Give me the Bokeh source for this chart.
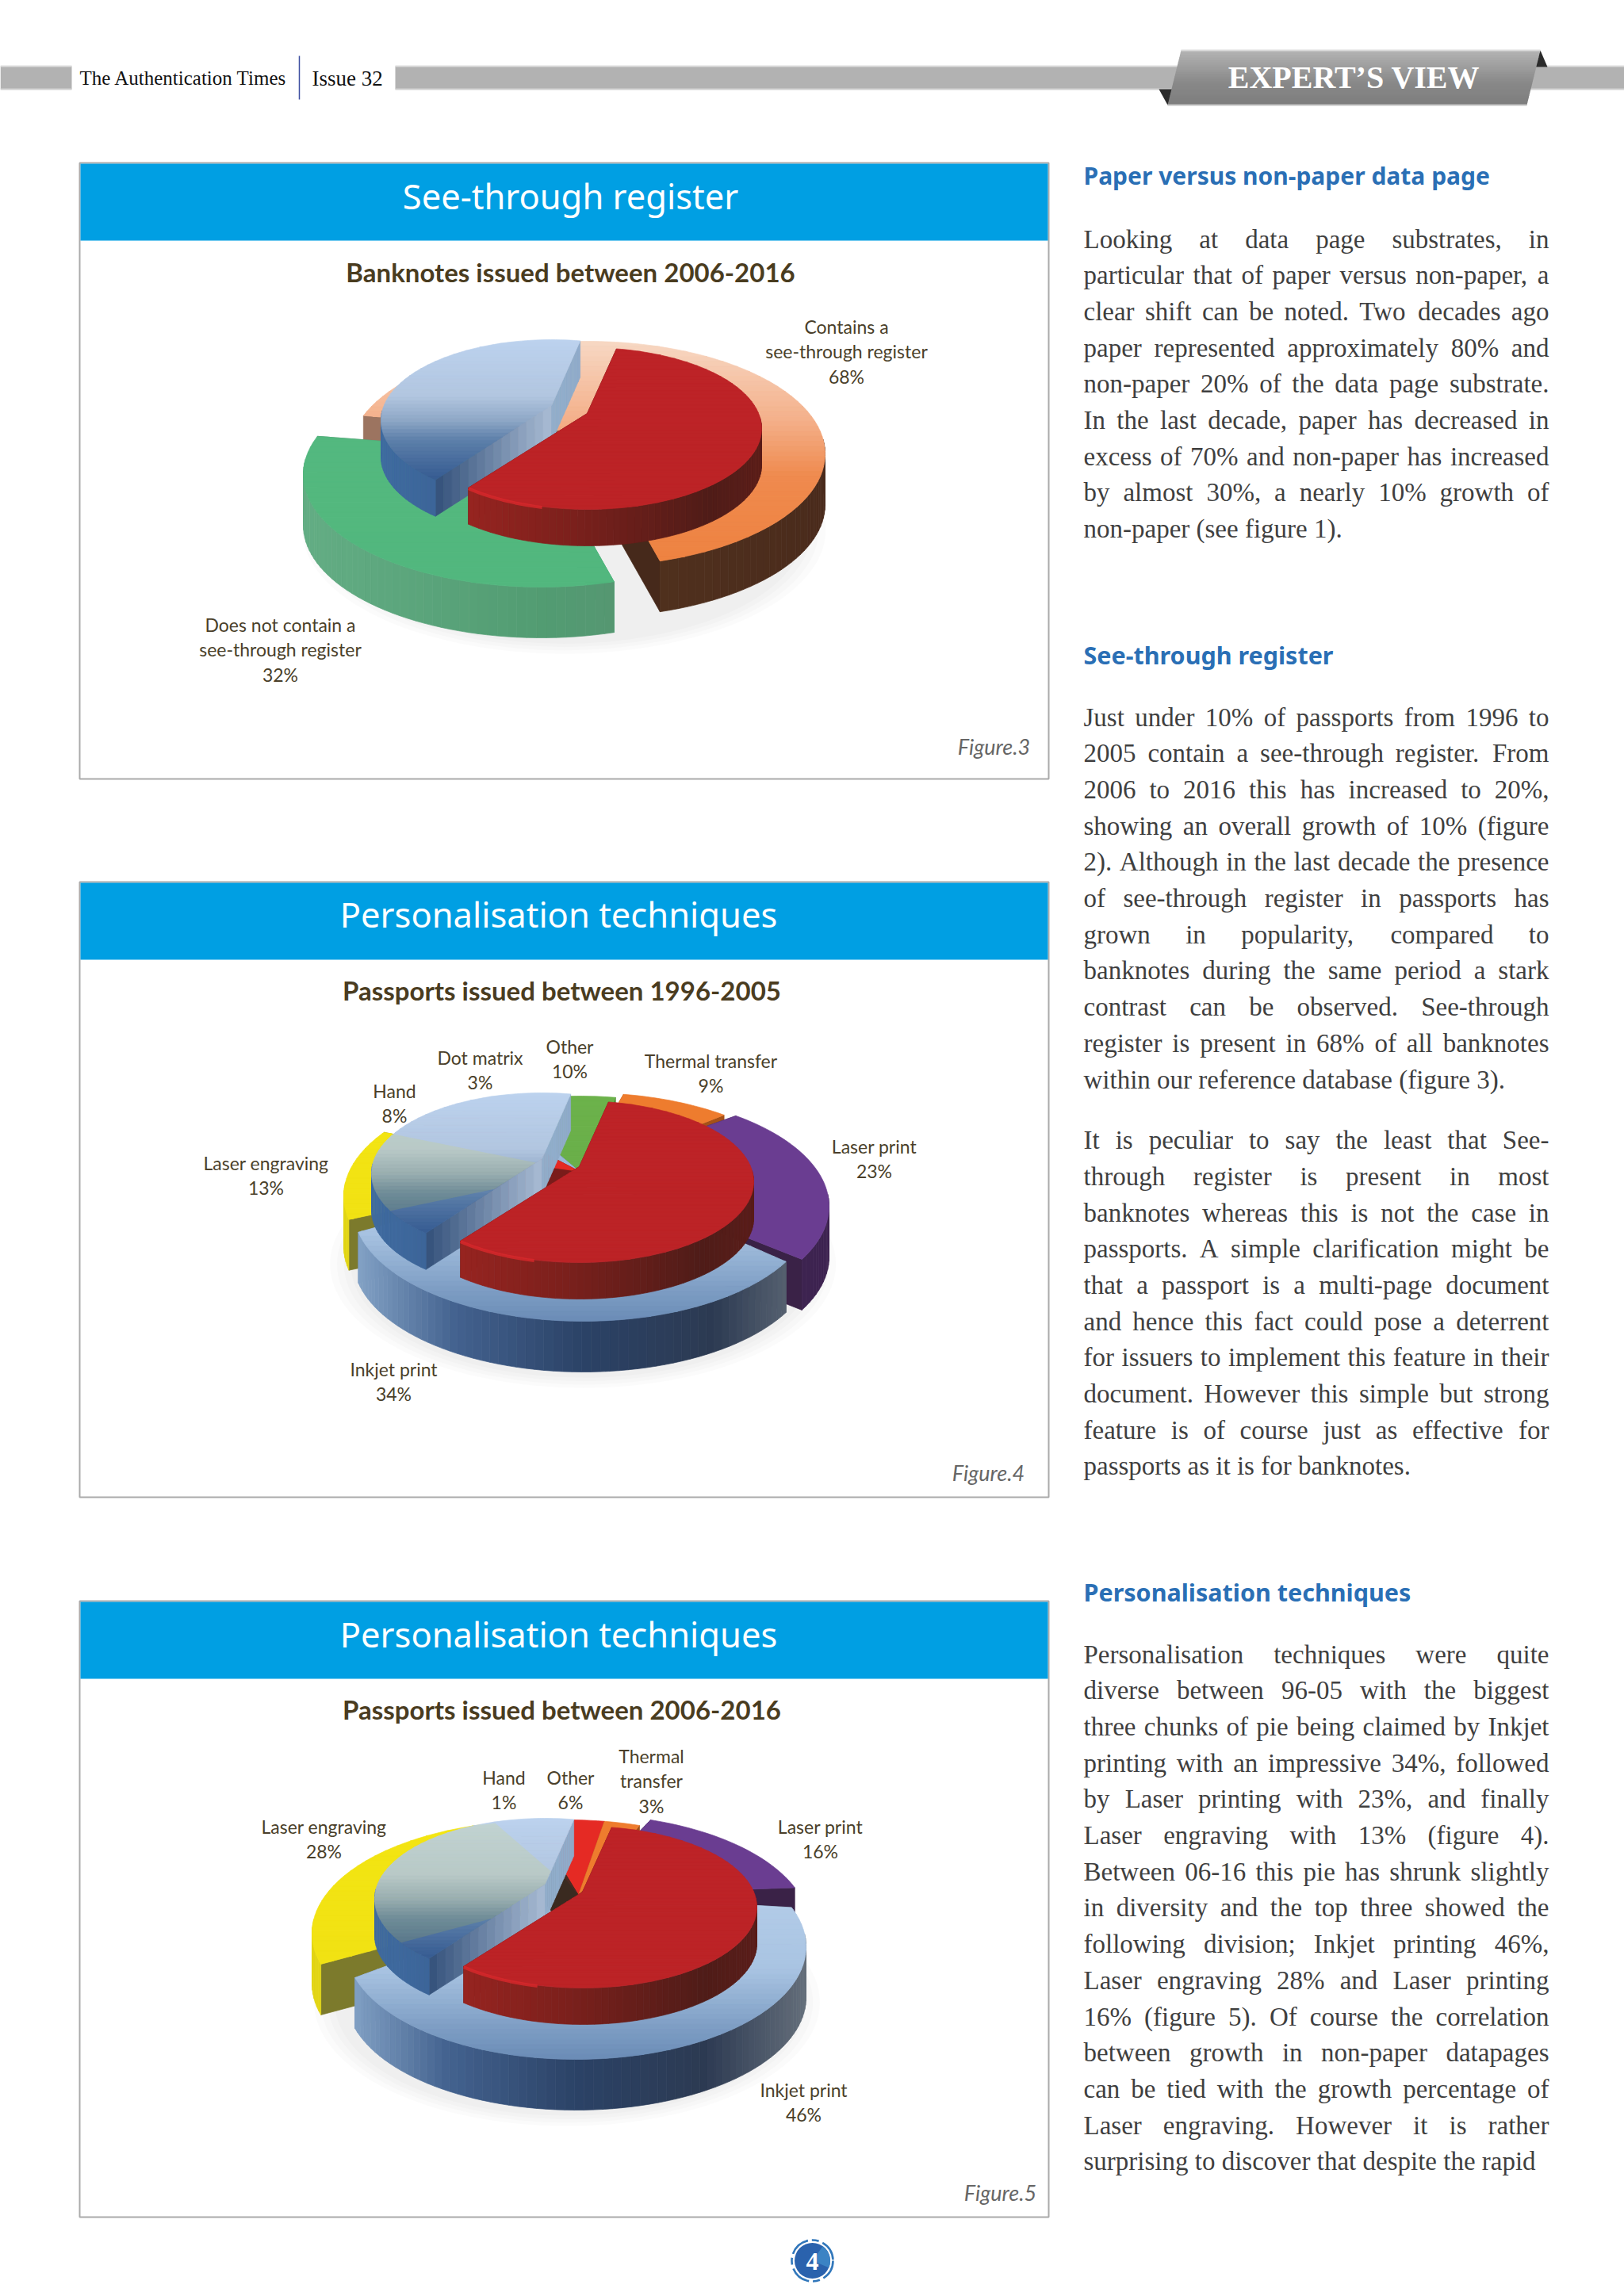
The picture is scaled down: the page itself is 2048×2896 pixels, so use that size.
import math
from bokeh.plotting import figure
from bokeh.models import Range1d, ColumnDataSource
from bokeh.core.properties import value
from bokeh.embed import file_html
from bokeh.resources import INLINE

# ---------- DATA ----------
fig3_names = ["Contains a see-through register", "Does not contain a see-through register"]
fig3_values = [68, 32]
fig4_names = ["Other", "Thermal transfer", "Laser print", "Inkjet print", "Laser engraving", "Hand", "Dot matrix"]
fig4_values = [10, 9, 23, 34, 13, 8, 3]
fig5_names = ["Hand", "Other", "Thermal transfer", "Laser print", "Inkjet print", "Laser engraving"]
fig5_values = [1, 6, 3, 16, 46, 28]
inner_names = ["Red", "Blue"]
inner_values = [57, 43]

fig3_labels = [["Contains a", "see-through register", "68%"], ["Does not contain a", "see-through register", "32%"]]
fig4_labels = [["Other", "10%"], ["Dot matrix", "3%"], ["Hand", "8%"], ["Thermal transfer", "9%"],
               ["Laser print", "23%"], ["Laser engraving", "13%"], ["Inkjet print", "34%"]]
fig5_labels = [["Hand", "1%"], ["Other", "6%"], ["Thermal", "transfer", "3%"], ["Laser print", "16%"],
               ["Laser engraving", "28%"], ["Inkjet print", "46%"]]

para1 = ["Looking at data page substrates, in", "particular that of paper versus non-paper, a",
         "clear shift can be noted. Two decades ago", "paper represented approximately 80% and",
         "non-paper 20% of the data page substrate.", "In the last decade, paper has decreased in",
         "excess of 70% and non-paper has increased", "by almost 30%, a nearly 10% growth of",
         "non-paper (see figure 1)."]
para2 = ["Just under 10% of passports from 1996 to", "2005 contain a see-through register. From",
         "2006 to 2016 this has increased to 20%,", "showing an overall growth of 10% (figure",
         "2). Although in the last decade the presence", "of see-through register in passports has",
         "grown in popularity, compared to", "banknotes during the same period a stark",
         "contrast can be observed. See-through", "register is present in 68% of all banknotes",
         "within our reference database (figure 3)."]
para3 = ["It is peculiar to say the least that See-", "through register is present in most",
         "banknotes whereas this is not the case in", "passports. A simple clarification might be",
         "that a passport is a multi-page document", "and hence this fact could pose a deterrent",
         "for issuers to implement this feature in their", "document. However this simple but strong",
         "feature is of course just as effective for", "passports as it is for banknotes."]
para4 = ["Personalisation techniques were quite", "diverse between 96-05 with the biggest",
         "three chunks of pie being claimed by Inkjet", "printing with an impressive 34%, followed",
         "by Laser printing with 23%, and finally", "Laser engraving with 13% (figure 4).",
         "Between 06-16 this pie has shrunk slightly", "in diversity and the top three showed the",
         "following division; Inkjet printing 46%,", "Laser engraving 28% and Laser printing",
         "16% (figure 5). Of course the correlation", "between growth in non-paper datapages",
         "can be tied with the growth percentage of", "Laser engraving. However it is rather",
         "surprising to discover that despite the rapid"]

# ---------- STYLES ----------
STY = {
    "orange3": dict(top=[(0, "#f7d8c4"), (.35, "#f4b08a"), (.6, "#ef8a4e"), (1, "#ee8240")],
                    wall=[(0, "#5a3a20"), (1, "#4a2b1c")], rad=[("#9c7460", "#9c7460"), ("#46291b", "#46291b")]),
    "green3": dict(top=[(0, "#54b97f"), (1, "#52b77e")],
                   wall=[(0, "#63ad84"), (.5, "#529c72"), (1, "#5d8c70")], rad=[("#1fa45f", "#1fa45f"), ("#5d8c70", "#5d8c70")]),
    "green": dict(top=[(0, "#6cb24b"), (1, "#64a845")], wall=[(0, "#5a953f"), (1, "#5a953f")], rad=[("#4f8a38", "#4f8a38"), ("#4f8a38", "#4f8a38")]),
    "orange": dict(top=[(0, "#ee7c2e"), (1, "#ee7c2e")], wall=[(0, "#b45a1e"), (1, "#b45a1e")], rad=[("#a55118", "#a55118"), ("#a55118", "#a55118")]),
    "purple": dict(top=[(0, "#6a3d91"), (1, "#6a3d91")], wall=[(0, "#3d2350"), (1, "#3d2350")], rad=[("#3a2247", "#3a2247"), ("#3a2247", "#3a2247")]),
    "steel": dict(top=[(0, "#bcd3ee"), (.6, "#a9c4e2"), (.85, "#7f9fc5"), (1, "#6a8cb6")],
                  wall=[(0, "#86a5c8"), (.22, "#43628f"), (.5, "#2b4266"), (.78, "#2c3a52"), (1, "#646e7a")],
                  rad=[("#5d6773", "#5d6773"), ("#6f8fb5", "#6f8fb5")]),
    "yellow": dict(top=[(0, "#f3e512"), (1, "#f0e014")], wall=[(0, "#e2d514"), (1, "#c8bd1c")], rad=[("#7c7a2c", "#7c7a2c"), ("#7c7a2c", "#7c7a2c")]),
    "red": dict(top=[(0, "#e52a24"), (1, "#e52a24")], wall=[(0, "#a82420"), (1, "#a82420")], rad=[("#7a1c1a", "#7a1c1a"), ("#7a1c1a", "#7a1c1a")]),
    "dark": dict(top=[(0, "#4a2a22"), (1, "#4a2a22")], wall=[(0, "#3a2a20"), (1, "#3a2a20")], rad=[("#3a2a20", "#3a2a20"), ("#3a2a20", "#3a2a20")]),
    "sky": dict(top=[(0, "#9ab8d8"), (1, "#9ab8d8")], wall=[(0, "#54719a"), (1, "#54719a")], rad=[("#54719a", "#54719a"), ("#54719a", "#54719a")]),
    "innerred": dict(top=[(0, "#bd2327"), (1, "#bc2326")],
                     wall=[(0, "#a52622"), (.45, "#7c201c"), (.85, "#4f1c18"), (1, "#5a1d19")], rad=[("#5a1d19", "#5a1d19"), ("#5a1d19", "#5a1d19")]),
    "innerblue": dict(top=[(0, "#bcd2ee"), (.35, "#b2c6e0"), (.5, "#8ea7c6"), (.62, "#5d80aa"), (.85, "#385d93"), (1, "#2f5284")],
                      wall=[(0, "#3f6ba0"), (.3, "#3a5f92"), (1, "#2f4d7c")],
                      rad=[("#33507a", "#a9bcd4"), ("#8fabca", "#92aecb")]),
}
TEXT_BROWN = "#4a3f2a"


def h2rgb(h):
    return tuple(int(h[i:i + 2], 16) for i in (1, 3, 5))


def grad(stops, t):
    t = max(0, min(1, t))
    for (a, ca), (b, cb) in zip(stops, stops[1:]):
        if t <= b:
            f = (t - a) / (b - a) if b > a else 0
            A, B = h2rgb(ca), h2rgb(cb)
            return "#%02x%02x%02x" % tuple(round(A[i] + (B[i] - A[i]) * f) for i in range(3))
    return stops[-1][1]


def warp(phi):
    return phi + 10 * math.cos(math.radians(phi))


def clip_half(poly, inside, cross):
    out = []
    for i, p in enumerate(poly):
        q = poly[(i + 1) % len(poly)]
        ip, iq = inside(p), inside(q)
        if ip:
            out.append(p)
        if ip != iq:
            out.append(cross(p, q))
    return out


def clip_band(poly, y0, y1):
    def cr(yv):
        def f(p, q):
            t = (yv - p[1]) / (q[1] - p[1])
            return (p[0] + t * (q[0] - p[0]), yv)
        return f
    poly = clip_half(poly, lambda a: a[1] >= y0, cr(y0))
    if not poly:
        return poly
    return clip_half(poly, lambda a: a[1] <= y1, cr(y1))


def clip_convex(poly, clipper):
    mx = sum(a[0] for a in clipper) / len(clipper)
    my = sum(a[1] for a in clipper) / len(clipper)
    for i, a in enumerate(clipper):
        b = clipper[(i + 1) % len(clipper)]
        ex, ey = b[0] - a[0], b[1] - a[1]
        if abs(ex) + abs(ey) < 1e-6:
            continue
        s = ex * (my - a[1]) - ey * (mx - a[0])

        def side(p, a=a, ex=ex, ey=ey, s=s):
            return (ex * (p[1] - a[1]) - ey * (p[0] - a[0])) * s >= 0

        def cross(p, q, a=a, ex=ex, ey=ey):
            d1 = ex * (p[1] - a[1]) - ey * (p[0] - a[0])
            d2 = ex * (q[1] - a[1]) - ey * (q[0] - a[0])
            t = d1 / (d1 - d2)
            return (p[0] + t * (q[0] - p[0]), p[1] + t * (q[1] - p[1]))
        poly = clip_half(poly, side, cross)
        if not poly:
            return []
    return poly


class Canvas:
    def __init__(self):
        self.xs, self.ys, self.col, self.al, self.lal = [], [], [], [], []

    def add(self, poly, color, alpha=1.0, lal=1.0):
        if len(poly) < 3:
            return
        self.xs.append([a[0] for a in poly])
        self.ys.append([a[1] for a in poly])
        self.col.append(color)
        self.al.append(alpha)
        self.lal.append(lal)


def make_sector(cx, cy, rx, ry, apex, a0, a1):
    n = max(3, int(abs(a0 - a1) / 2))
    arc = []
    for i in range(n + 1):
        th = math.radians(warp(a0 + (a1 - a0) * i / n))
        arc.append((cx + rx * math.cos(th), cy - ry * math.sin(th), th))
    return apex, arc


def draw_walls(c, sec, cx, rx, depth, sty):
    apex, arc = sec
    # radial walls: first edge then last edge, shaded from rim towards the apex
    for k, corner in enumerate((arc[0], arc[-1])):
        c0, c1 = sty["rad"][k]
        steps = 14 if c0 != c1 else 1
        for j in range(steps):
            f0, f1 = j / steps, (j + 1) / steps
            ax = corner[0] + (apex[0] - corner[0]) * f0
            ay = corner[1] + (apex[1] - corner[1]) * f0
            bx = corner[0] + (apex[0] - corner[0]) * f1
            by = corner[1] + (apex[1] - corner[1]) * f1
            c.add([(ax, ay), (bx, by), (bx, by + depth), (ax, ay + depth)],
                  grad([(0, c0), (1, c1)], (j + .5) / steps))
    # arc wall (front only)
    for p, q in zip(arc, arc[1:]):
        if math.sin((p[2] + q[2]) / 2) < 0.12:
            t = (0.5 * (p[0] + q[0]) - (cx - rx)) / (2 * rx)
            c.add([(p[0], p[1]), (q[0], q[1]), (q[0], q[1] + depth), (p[0], p[1] + depth)], grad(sty["wall"], t))


def top_poly(sec):
    apex, arc = sec
    return [apex] + [(a[0], a[1]) for a in arc]


def draw_top(c, sec, cy, ry, sty):
    poly = top_poly(sec)
    y0 = cy - ry
    if len(set(s[1] for s in sty["top"])) <= 1:
        c.add(poly, sty["top"][0][1])
        return
    bands = 45
    for i in range(bands):
        ya = y0 + 2 * ry * i / bands
        yb = y0 + 2 * ry * (i + 1) / bands
        part = clip_band(poly, ya, yb + 0.5)
        if part:
            c.add(part, grad(sty["top"], (i + .5) / bands))


def bounds(values, start):
    out, a = [], start
    for v in values:
        out.append((a, a - v * 3.6))
        a -= v * 3.6
    return out


def draw_pie(p, values, start, centers, styles, rx, ry, depth, up, red_c, blue_c, tint=None, apex=None, last=()):
    c = Canvas()
    sh_x = sum(k[0] for k in centers) / len(centers)
    sh_y = max(k[1] for k in centers)
    for grow in (1.10, 1.07, 1.04, 1.01):
        p.ellipse(x=[sh_x], y=[sh_y + depth + 6], width=[2 * rx * grow], height=[2 * ry * grow],
                  fill_color="#000000", fill_alpha=0.014, line_color=None)
    sl = []
    for (a0, a1), ctr, st in zip(bounds(values, start), centers, styles):
        ap = apex if apex is not None else (ctr[0], ctr[1] - up)
        sec = make_sector(ctr[0], ctr[1], rx, ry, ap, a0, a1)
        mid = math.sin(math.radians(warp((a0 + a1) / 2)))
        sl.append((mid, sec, ctr, st))
    sl.sort(key=lambda s: (s[3] in last, -s[0]))
    for mid, sec, ctr, st in sl:
        draw_walls(c, sec, ctr[0], rx, depth, STY[st])
        draw_top(c, sec, ctr[1], ry, STY[st])
    irx, iry, idep, iup = 215, 102, 46, 19
    iv = bounds(inner_values, 78.3)
    blue = make_sector(blue_c[0], blue_c[1], irx, iry, (blue_c[0], blue_c[1] - iup), iv[1][0], iv[1][1])
    red = make_sector(red_c[0], red_c[1], irx + 5, iry, (red_c[0], red_c[1] - iup), iv[0][0], iv[0][1])
    draw_walls(c, blue, blue_c[0], irx, idep, STY["innerblue"])
    draw_top(c, blue, blue_c[1], iry, STY["innerblue"])
    if tint is not None:
        for i, st in enumerate(styles):
            if st == tint:
                sec = [s for s in sl if s[3] == st][0][1]
                part = clip_convex(top_poly(sec), top_poly(blue))
                c.add(part, "#e8e020", 0.13, 0.0)
    draw_walls(c, red, red_c[0], irx + 5, idep, STY["innerred"])
    draw_top(c, red, red_c[1], iry, STY["innerred"])
    p.patches("xs", "ys", source=ColumnDataSource(dict(xs=c.xs, ys=c.ys, col=c.col, al=c.al, lal=c.lal)),
              fill_color="col", line_color="col", fill_alpha="al", line_alpha="lal", line_width=0.7)
    # rim highlight of the red slice
    hl = [a for a in red[1] if math.pi * 1.22 < (a[2] % (2 * math.pi)) < math.pi * 1.42]
    p.line([a[0] for a in hl], [a[1] + 1 for a in hl], line_color="#d9282c", line_width=4, line_alpha=0.8)


p = figure(width=2048, height=2896, x_range=Range1d(0, 2048), y_range=Range1d(2896, 0),
           output_backend="svg", toolbar_location=None, min_border=0, outline_line_color=None,
           background_fill_color="#ffffff", border_fill_color="#ffffff", x_axis_location=None, y_axis_location=None)
p.xgrid.visible = False
p.ygrid.visible = False


def T(x, y, s, size, color="#000000", font="Lato", style="normal", align="center"):
    p.text([x], [y], text=[s], text_font=value(font), text_font_size=value(f"{size}px"),
           text_font_style=style, text_color=color, text_align=align, text_baseline="middle")


# ---------- HEADER ----------
BAND = "#b2b2b2"
for x0, x1 in [(0, 90), (498, 2048)]:
    p.quad(left=[x0], right=[x1], top=[83], bottom=[112], fill_color=BAND, line_color=None)
    p.quad(left=[x0], right=[x1], top=[82], bottom=[84], fill_color="#dddddd", line_color=None)
    p.quad(left=[x0], right=[x1], top=[111], bottom=[113], fill_color="#d0d0d0", line_color=None)
T(100, 98, "The Authentication Times", 25, "#111111", "Liberation Serif", align="left")
T(393, 98, "Issue 32", 27, "#111111", "Liberation Serif", align="left")
p.line([377, 377], [70, 125], line_color="#3b4b9f", line_width=1.5)
p.patch([1942, 1951, 1933], [63, 84, 84], fill_color="#2b2b2b", line_color=None)
p.patch([1461, 1482, 1472], [112, 112, 132], fill_color="#2b2b2b", line_color=None)
rib = [(1489, 63), (1942, 63), (1925, 132), (1472, 132)]
ribc = Canvas()
for i in range(23):
    ya = 63 + 3 * i
    ribc.add(clip_band(rib, ya, ya + 3.4), grad([(0, "#b2b2b2"), (.6, "#888888"), (1, "#7e7e7e")], i / 22))
p.patches(ribc.xs, ribc.ys, fill_color=ribc.col, line_color=None)
p.line([1489, 1942], [63, 63], line_color="#dddddd", line_width=2)
p.line([1472, 1925], [132, 132], line_color="#c4c4c4", line_width=2)
T(1707, 97, "EXPERT\u2019S VIEW", 40, "#ffffff", "Liberation Serif", "bold")

# ---------- PANELS ----------
PANELS = [
    dict(top=205, head=303, bot=982, title="See-through register", ty=246, tx=719,
         sub="Banknotes issued between 2006-2016", sy=342, sx=719, fig="Figure.3", fx=1253, fy=941),
    dict(top=1112, head=1210, bot=1888, title="Personalisation techniques", ty=1152, tx=704,
         sub="Passports issued between 1996-2005", sy=1248, sx=708, fig="Figure.4", fx=1246, fy=1857),
    dict(top=2019, head=2117, bot=2796, title="Personalisation techniques", ty=2060, tx=704,
         sub="Passports issued between 2006-2016", sy=2155, sx=708, fig="Figure.5", fx=1261, fy=2765),
]
for q in PANELS:
    p.quad(left=[100], right=[1322], top=[q["top"]], bottom=[q["bot"]], fill_color="#ffffff",
           line_color="#aaaaaa", line_width=2)
    p.quad(left=[101], right=[1321], top=[q["top"] + 1], bottom=[q["head"]], fill_color="#009fe3", line_color=None)
    T(q["tx"], q["ty"], q["title"], 43.5, "#ffffff", "Noto Sans")
    T(q["sx"], q["sy"], q["sub"], 33, "#4a3c1f", "Lato", "bold")
    T(q["fx"], q["fy"], q["fig"], 27, "#666666", "Lato", "italic")

# ---------- PIES ----------
draw_pie(p, fig3_values, 170, [(740, 572), (682, 598)], ["orange3", "green3"], 300, 142, 64, 27, (740, 540), (695, 530))
draw_pie(p, fig4_values, 115,
         [(730, 1524), (740, 1520), (755, 1521), (735, 1524), (723, 1508), (730, 1524), (730, 1524)],
         ["green", "orange", "purple", "steel", "yellow", "red", "sky"], 290, 142, 64, 47, (730, 1490), (683, 1480),
         tint="yellow", apex=(730, 1477), last=("red",))
draw_pie(p, fig5_values, 104.2,
         [(716, 2437), (716, 2437), (716, 2437), (730, 2430), (726, 2455), (683, 2438)],
         ["dark", "red", "orange", "purple", "steel", "yellow"], 290, 142, 64, 47, (734, 2405), (687, 2395),
         tint="yellow", apex=(729, 2390), last=("dark", "red", "orange"))

# ---------- PIE LABELS ----------
POS3 = [(1067, 411), (353, 787)]
POS4 = [(718, 1319), (605, 1333), (497, 1375), (896, 1337), (1102, 1445), (335, 1466), (496, 1726)]
POS5 = [(635, 2241), (719, 2241), (821, 2214), (1034, 2303), (408, 2303), (1013, 2635)]
for labels, pos in [(fig3_labels, POS3), (fig4_labels, POS4), (fig5_labels, POS5)]:
    for lines, (x, y) in zip(labels, pos):
        for i, s in enumerate(lines):
            T(x, y + i * 31.8, s, 23, TEXT_BROWN, "Lato")

# ---------- RIGHT COLUMN ----------
W = {" ": 250, ".": 250, ",": 250, "-": 333, "(": 333, ")": 333, "%": 833, ";": 278}
for ch, w in zip("abcdefghijklmnopqrstuvwxyz",
                 [444, 500, 444, 500, 444, 333, 500, 500, 278, 278, 500, 278, 778, 500, 500, 500, 500, 333, 389, 278, 500, 500, 722, 500, 500, 444]):
    W[ch] = w
for ch, w in zip("ABCDEFGHIJKLMNOPQRSTUVWXYZ",
                 [722, 667, 667, 722, 611, 556, 722, 722, 333, 389, 722, 611, 889, 722, 722, 556, 722, 667, 556, 611, 722, 722, 944, 722, 722, 611]):
    W[ch] = w
for ch in "0123456789":
    W[ch] = 500

COLX0, COLX1, FS, LEAD = 1366, 1953, 33, 45.7


def tw(s):
    return sum(W.get(ch, 500) for ch in s) * FS / 1000


def para(lines, y0):
    xs, ys, ts = [], [], []
    for i, line in enumerate(lines):
        words = line.split(" ")
        total = sum(tw(w) for w in words)
        last = i == len(lines) - 1
        gap = 0.25 * FS if last else (COLX1 - COLX0 - total) / (len(words) - 1)
        x = COLX0
        for w in words:
            xs.append(x)
            ys.append(y0 + i * LEAD)
            ts.append(w)
            x += tw(w) + gap
    p.text(xs, ys, text=ts, text_font=value("Liberation Serif"), text_font_size=value(f"{FS}px"),
           text_color="#3f3f3f", text_align="left", text_baseline="middle")


HEAD_C = "#2a6fb5"
T(1366, 221, "Paper versus non-paper data page", 30, HEAD_C, "Noto Sans", "bold", "left")
para(para1, 301)
T(1366, 825, "See-through register", 30.5, HEAD_C, "Noto Sans", "bold", "left")
para(para2, 904)
para(para3, 1437.6)
T(1366, 2007, "Personalisation techniques", 30.5, HEAD_C, "Noto Sans", "bold", "left")
para(para4, 2086)

# ---------- PAGE NUMBER ----------
p.circle([1024], [2851], radius=22.5, fill_color="#2a62ad", line_color=None)
p.wedge([1024], [2851], radius=22.5, start_angle=-0.4, end_angle=0.95, fill_color="#3b83c4", line_color=None)
p.circle([1024], [2851], radius=26, fill_color=None, line_color="#3177bb", line_width=2.6, line_dash="26 5 9 5")
T(1024, 2852, "4", 32, "#ffffff", "Liberation Serif", "bold")

open("out.html", "w").write(file_html(p, INLINE))
